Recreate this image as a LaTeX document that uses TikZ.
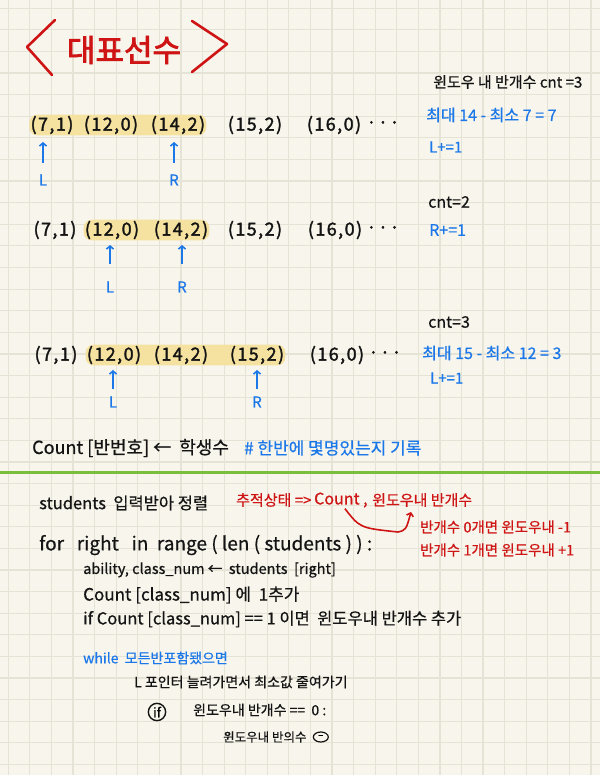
\documentclass[tikz,border=0pt]{standalone}
\usepackage{fontspec}
\setmainfont{Noto Sans CJK KR}[FakeBold=0.6]
\newfontfamily\titlefont{Noto Sans CJK KR}[FakeBold=2.5]
\newfontfamily\tupfont{Noto Sans CJK KR}[FakeBold=1.8,LetterSpace=8]
\usetikzlibrary{calc,arrows.meta,fit,backgrounds,shapes.geometric,positioning}

\definecolor{paper}{RGB}{248,246,236}
\definecolor{gridc}{RGB}{229,226,214}
\definecolor{hl}{RGB}{245,226,160}
\definecolor{pen}{RGB}{20,20,20}
\definecolor{bluepen}{RGB}{28,120,232}
\definecolor{redpen}{RGB}{206,20,20}
\definecolor{greenpen}{RGB}{122,190,62}

\tikzset{
  gridline/.style={draw=gridc, line width=1.2pt},
  tup/.style={font=\tupfont\fontsize{18}{18}\selectfont, text=pen, inner sep=1pt},
  note/.style={font=\fontsize{15}{15}\selectfont, text=pen, inner sep=1pt, anchor=west},
  bnote/.style={note, text=bluepen},
  rnote/.style={note, text=redpen},
  ptr/.style={draw=bluepen, line width=1.6pt, -{Straight Barb[length=3pt,width=7pt]}},
  ptrlab/.style={font=\fontsize{15}{15}\selectfont, text=bluepen},
  hlbox/.style={fill=hl, rounded corners=8pt, inner sep=0pt},
}

\begin{document}
\begin{tikzpicture}[x=1pt,y=-1pt]
\useasboundingbox (0,0) rectangle (600,775);

% paper and grid
\begin{scope}[on background layer]
\fill[paper] (0,0) rectangle (600,775);
\foreach \i in {0,...,27}
  \draw[gridline] ({8.3+21.58*\i},0) -- ({8.3+21.58*\i},775);
\foreach \j in {0,...,35}
  \draw[gridline] (0,{8.3+21.6*\j}) -- (600,{8.3+21.6*\j});
\end{scope}

% title
\draw[redpen, line width=2.6pt, line cap=round, line join=round] (55,20) -- (27,47) -- (52,75);
\draw[redpen, line width=2.6pt, line cap=round, line join=round] (192,21) -- (227,44) -- (192,72);
\node[text=redpen, font=\titlefont\fontsize{31}{31}\selectfont] (title) at (124,50) {대표선수};

% first row
\coordinate (r1) at (0,125);
\node[tup] (t11) at ($ (r1) + (52,0) $) {(7,1)};
\node[tup] (t12) at ($ (r1) + (111,0) $) {(12,0)};
\node[tup] (t13) at ($ (r1) + (178,0) $) {(14,2)};
\node[tup] (t14) at ($ (r1) + (255,0) $) {(15,2)};
\node[tup] (t15) at ($ (r1) + (334,0) $) {(16,0)};
\node[tup] (d1) at ($ (r1) + (383,0) $) {···};
\begin{scope}[on background layer]
\node[hlbox, fit=(t11)(t13)] (h1) {};
\end{scope}

\node[ptrlab] (l1) at (43,180) {L};
\node[ptrlab] (rr1) at (174,180) {R};
\coordinate (l1tip) at (43,142);
\coordinate (rr1tip) at (174,142);
\draw[ptr, shorten <=8pt] (l1) -- (l1tip);
\draw[ptr, shorten <=8pt] (rr1) -- (rr1tip);

\node[note] (cw1) at (432,82) {윈도우 내 반개수 cnt =3};
\node[bnote, font=\fontsize{16}{16}\selectfont] (mx1) at (425,115) {최대 14 - 최소 7 = 7};
\node[bnote] (lp1) at (428,147) {L+=1};

% second row
\coordinate (r2) at (0,230);
\node[tup] (t21) at ($ (r2) + (55,0) $) {(7,1)};
\node[tup] (t22) at ($ (r2) + (112,0) $) {(12,0)};
\node[tup] (t23) at ($ (r2) + (181,0) $) {(14,2)};
\node[tup] (t24) at ($ (r2) + (255,0) $) {(15,2)};
\node[tup] (t25) at ($ (r2) + (335,0) $) {(16,0)};
\node[tup] (d2) at ($ (r2) + (383,0) $) {···};
\begin{scope}[on background layer]
\node[hlbox, fit=(t22)(t23)] (h2) {};
\end{scope}

\node[ptrlab] (l2) at (110,287) {L};
\node[ptrlab] (rr2) at (182,287) {R};
\coordinate (l2tip) at (110,245);
\coordinate (rr2tip) at (182,245);
\draw[ptr, shorten <=14pt] (l2) -- (l2tip);
\draw[ptr, shorten <=14pt] (rr2) -- (rr2tip);

\node[note, font=\fontsize{16}{16}\selectfont] (cn2) at (427,202) {cnt=2};
\node[bnote, font=\fontsize{16}{16}\selectfont] (rp2) at (428,230) {R+=1};

% third row
\coordinate (r3) at (0,355);
\node[tup] (t31) at ($ (r3) + (56,0) $) {(7,1)};
\node[tup] (t32) at ($ (r3) + (114,0) $) {(12,0)};
\node[tup] (t33) at ($ (r3) + (181,0) $) {(14,2)};
\node[tup] (t34) at ($ (r3) + (257,0) $) {(15,2)};
\node[tup] (t35) at ($ (r3) + (337,0) $) {(16,0)};
\node[tup] (d3) at ($ (r3) + (385,0) $) {···};
\begin{scope}[on background layer]
\node[hlbox, fit=(t32)(t34)] (h3) {};
\end{scope}

\node[ptrlab] (l3) at (113,402) {L};
\node[ptrlab] (rr3) at (257,402) {R};
\coordinate (l3tip) at (113,370);
\coordinate (rr3tip) at (257,370);
\draw[ptr, shorten <=4pt] (l3) -- (l3tip);
\draw[ptr, shorten <=4pt] (rr3) -- (rr3tip);

\node[note, font=\fontsize{16}{16}\selectfont] (cn3) at (427,322) {cnt=3};
\node[bnote, font=\fontsize{16}{16}\selectfont] (mx3) at (421,353) {최대 15 - 최소 12 = 3};
\node[bnote] (lp3) at (429,378) {L+=1};

% count array
\node[note, font=\fontsize{18}{18}\selectfont] (cnt) at (31,448) {Count [반번호] ← \ 학생수};
\node[bnote, font=\fontsize{17}{17}\selectfont] (cmt) at (243,448) {\# 한반에 몇명있는지 기록};
\draw[greenpen, line width=3pt] (0,472) -- (600,472);

% pseudo code
\node[note, font=\fontsize{16.5}{16.5}\selectfont] (inp) at (38,503) {students \ 입력받아 정렬};
\node[rnote] (trk) at (235,500) {추적상태 =>};
\node[rnote, font=\fontsize{16}{16}\selectfont] (cword) at (313,500) {Count ,};
\node[rnote] (wword) at (371,500) {윈도우내 반개수};
\coordinate (wtip) at (411,512);
\draw[redpen, line width=1.6pt, -{Straight Barb[length=3pt,width=7pt]}]
  ([xshift=4pt]cword.south) .. controls (360,528) .. (398,532) .. controls (406,530) .. (wtip);
\node[rnote, font=\fontsize{14.5}{14.5}\selectfont] (dec) at (419,527) {반개수 0개면 윈도우내 -1};
\node[rnote, font=\fontsize{14.5}{14.5}\selectfont] (inc) at (419,550) {반개수 1개면 윈도우내 +1};

\node[note, font=\fontsize{19}{19}\selectfont] (loop) at (38,545) {for \ \ right \ \ in \ range ( len ( students ) ) :};
\node[note, font=\fontsize{14.5}{14.5}\selectfont] (get) at (82,570) {ability, class\_num ← \ students \ [right]};
\node[note, font=\fontsize{17}{17}\selectfont] (add) at (82,595) {Count [class\_num] 에 \ 1추가};
\node[note, font=\fontsize{16.5}{16.5}\selectfont] (chk) at (82,619) {if Count [class\_num] == 1 이면 \ 윈도우내 반개수 추가};
\node[bnote, font=\fontsize{14}{14}\selectfont] (wh) at (82,658) {while \ 모든반포함됐으면};
\node[note, font=\fontsize{14}{14}\selectfont] (mv) at (133,682) {L 포인터 늘려가면서 최소값 줄여가기};
\node[draw=pen, line width=1.4pt, circle, inner sep=1.5pt, font=\fontsize{13}{13}\selectfont] (cif) at (157,712) {if};
\node[note, font=\fontsize{14}{14}\selectfont] (zero) at (192,710) {윈도우내 반개수 == \ 0 :};
\node[note, font=\fontsize{12.5}{12.5}\selectfont] (dn) at (222,737) {윈도우내 반의수};
\node[draw=pen, line width=1.2pt, ellipse, inner sep=0pt, minimum width=15pt, minimum height=10pt, font=\fontsize{9}{9}\selectfont, right=5pt of dn] (mn) {−};
\end{tikzpicture}
\end{document}
